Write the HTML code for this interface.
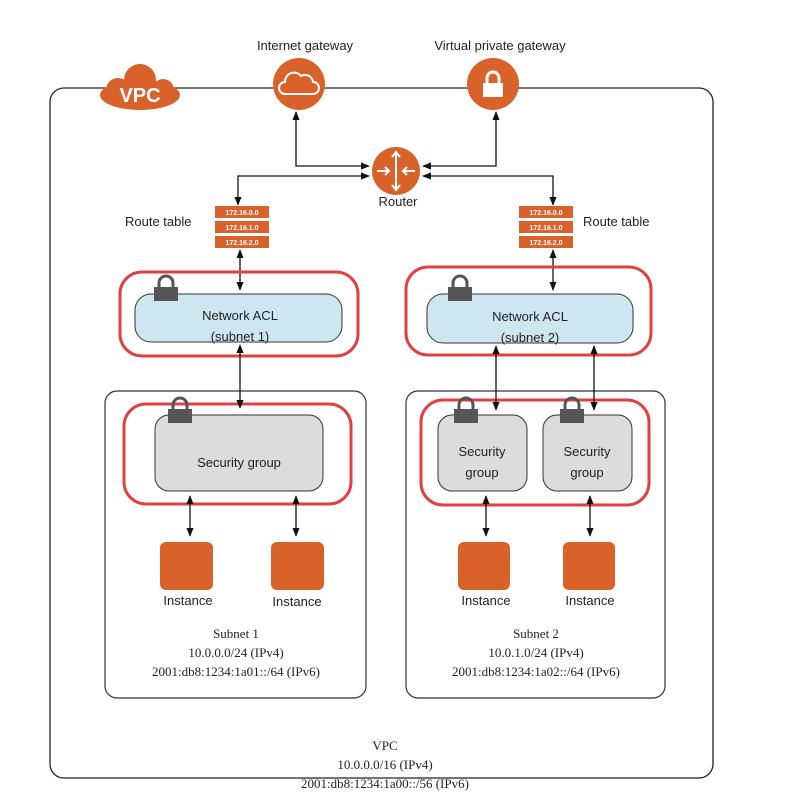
<!DOCTYPE html>
<html><head><meta charset="utf-8"><style>
html,body{margin:0;padding:0;background:#fff;}
svg{display:block;}
.s{font-family:"Liberation Sans",sans-serif;font-size:13px;fill:#222;}
.r{font-family:"Liberation Serif",serif;font-size:13px;fill:#222;}
.rt{font-family:"Liberation Sans",sans-serif;font-size:7px;fill:#fff;font-weight:bold;}
</style></head><body>
<svg width="800" height="809" viewBox="0 0 800 809" xmlns="http://www.w3.org/2000/svg">
<defs>
<marker id="a" viewBox="0 0 10 10" refX="9" refY="5" markerWidth="7" markerHeight="7" orient="auto-start-reverse"><path d="M0,1 L10,5 L0,9 z" fill="#111"/></marker>
<g id="lock"><rect x="-12" y="-2" width="24" height="14" fill="#555"/><path d="M-7,-2 V-6 A7,7 0 0 1 7,-6 V-2" fill="none" stroke="#555" stroke-width="3"/></g>
<g id="rt"><rect x="0" y="0" width="54" height="12" fill="#d9622b"/><rect x="0" y="15" width="54" height="12" fill="#d9622b"/><rect x="0" y="30" width="54" height="12" fill="#d9622b"/>
<text class="rt" x="27" y="9" text-anchor="middle">172.16.0.0</text><text class="rt" x="27" y="24" text-anchor="middle">172.16.1.0</text><text class="rt" x="27" y="39" text-anchor="middle">172.16.2.0</text></g>
</defs>
<rect x="50" y="88" width="663" height="690" rx="14" fill="none" stroke="#222" stroke-width="1.3"/>
<!-- VPC cloud -->
<g fill="#d9622b"><ellipse cx="140" cy="95" rx="40" ry="15"/><circle cx="140" cy="80" r="16"/><circle cx="118" cy="90" r="12"/><circle cx="163" cy="90" r="11"/></g>
<text x="140" y="102" text-anchor="middle" font-family="Liberation Sans,sans-serif" font-weight="bold" font-size="20" fill="#fff">VPC</text>
<!-- IGW -->
<circle cx="299" cy="84" r="26" fill="#d9622b"/>
<path d="M285,94 h28 a6,6 0 0 0 0,-12 a8,8 0 0 0 -12,-6 a9,9 0 0 0 -16,6 a6,6 0 0 0 0,12z" fill="none" stroke="#fff" stroke-width="2"/>
<text class="s" x="305" y="50" text-anchor="middle">Internet gateway</text>
<!-- VPG -->
<circle cx="493" cy="84" r="26" fill="#d9622b"/>
<rect x="483" y="83" width="20" height="14" fill="#fff"/><path d="M487,83 v-5 a6,6 0 0 1 12,0 v5" fill="none" stroke="#fff" stroke-width="3"/>
<text class="s" x="500" y="50" text-anchor="middle">Virtual private gateway</text>
<!-- Router -->
<circle cx="396" cy="171" r="24" fill="#d9622b"/>
<g stroke="#fff" stroke-width="2" fill="none"><path d="M396,152 v38 M392,157 l4,-5 l4,5 M392,185 l4,5 l4,-5 M377,171 h12 M385,167 l4,4 l-4,4 M415,171 h-12 M407,167 l-4,4 l4,4"/></g>
<text class="s" x="398" y="206" text-anchor="middle">Router</text>
<!-- connectors top -->
<g stroke="#111" stroke-width="1.3" fill="none">
<path d="M296,112 V166 H369" marker-start="url(#a)" marker-end="url(#a)"/>
<path d="M238,205 V176 H369" marker-start="url(#a)" marker-end="url(#a)"/>
<path d="M496,112 V166 H423" marker-start="url(#a)" marker-end="url(#a)"/>
<path d="M553,205 V176 H423" marker-start="url(#a)" marker-end="url(#a)"/>
<path d="M240,250 V290" marker-start="url(#a)" marker-end="url(#a)"/>
<path d="M553,250 V290" marker-start="url(#a)" marker-end="url(#a)"/>
</g>
<use href="#rt" x="215" y="206"/><use href="#rt" x="519" y="206"/>
<text class="s" x="125" y="226">Route table</text>
<text class="s" x="583" y="226">Route table</text>
<!-- NACL 1 -->
<rect x="120" y="272" width="238" height="84" rx="22" fill="none" stroke="#e04040" stroke-width="3"/>
<rect x="135" y="294" width="207" height="48" rx="16" fill="#cde6ef" stroke="#333" stroke-width="1"/>
<use href="#lock" x="166" y="289"/>
<text class="s" x="240" y="320" text-anchor="middle">Network ACL</text>
<text class="s" x="240" y="341" text-anchor="middle">(subnet 1)</text>
<!-- NACL 2 -->
<rect x="406" y="267" width="245" height="88" rx="22" fill="none" stroke="#e04040" stroke-width="3"/>
<rect x="427" y="294" width="206" height="49" rx="16" fill="#cde6ef" stroke="#333" stroke-width="1"/>
<use href="#lock" x="460" y="289"/>
<text class="s" x="530" y="321" text-anchor="middle">Network ACL</text>
<text class="s" x="530" y="342" text-anchor="middle">(subnet 2)</text>
<!-- Subnet 1 -->
<rect x="105" y="391" width="261" height="307" rx="12" fill="none" stroke="#333" stroke-width="1.2"/>
<rect x="124" y="404" width="227" height="100" rx="22" fill="none" stroke="#e04040" stroke-width="3"/>
<rect x="155" y="415" width="168" height="76" rx="14" fill="#dcdcdc" stroke="#333" stroke-width="1"/>
<use href="#lock" x="180" y="411"/>
<text class="s" x="239" y="467" text-anchor="middle">Security group</text>
<rect x="160" y="542" width="53" height="48" rx="6" fill="#d9622b"/>
<rect x="271" y="542" width="53" height="48" rx="6" fill="#d9622b"/>
<text class="s" x="188" y="605" text-anchor="middle">Instance</text>
<text class="s" x="297" y="606" text-anchor="middle">Instance</text>
<text class="r" x="236" y="638" text-anchor="middle">Subnet 1</text>
<text class="r" x="236" y="657" text-anchor="middle">10.0.0.0/24 (IPv4)</text>
<text class="r" x="236" y="676" text-anchor="middle">2001:db8:1234:1a01::/64 (IPv6)</text>
<!-- Subnet 2 -->
<rect x="406" y="391" width="259" height="307" rx="12" fill="none" stroke="#333" stroke-width="1.2"/>
<rect x="421" y="400" width="228" height="105" rx="22" fill="none" stroke="#e04040" stroke-width="3"/>
<rect x="438" y="415" width="89" height="76" rx="14" fill="#dcdcdc" stroke="#333" stroke-width="1"/>
<rect x="543" y="415" width="89" height="76" rx="14" fill="#dcdcdc" stroke="#333" stroke-width="1"/>
<use href="#lock" x="466" y="411"/><use href="#lock" x="572" y="411"/>
<text class="s" x="482" y="456" text-anchor="middle">Security</text>
<text class="s" x="482" y="477" text-anchor="middle">group</text>
<text class="s" x="587" y="456" text-anchor="middle">Security</text>
<text class="s" x="587" y="477" text-anchor="middle">group</text>
<rect x="458" y="542" width="52" height="48" rx="6" fill="#d9622b"/>
<rect x="563" y="542" width="52" height="48" rx="6" fill="#d9622b"/>
<text class="s" x="486" y="605" text-anchor="middle">Instance</text>
<text class="s" x="590" y="605" text-anchor="middle">Instance</text>
<text class="r" x="536" y="638" text-anchor="middle">Subnet 2</text>
<text class="r" x="536" y="657" text-anchor="middle">10.0.1.0/24 (IPv4)</text>
<text class="r" x="536" y="676" text-anchor="middle">2001:db8:1234:1a02::/64 (IPv6)</text>
<!-- VPC text -->
<text class="r" x="385" y="750" text-anchor="middle">VPC</text>
<text class="r" x="385" y="769" text-anchor="middle">10.0.0.0/16 (IPv4)</text>
<text class="r" x="385" y="788" text-anchor="middle">2001:db8:1234:1a00::/56 (IPv6)</text>
<!-- lower connectors -->
<g stroke="#111" stroke-width="1.3" fill="none">
<path d="M240,345 V408" marker-start="url(#a)" marker-end="url(#a)"/>
<path d="M496,346 V410" marker-start="url(#a)" marker-end="url(#a)"/>
<path d="M594,346 V410" marker-start="url(#a)" marker-end="url(#a)"/>
<path d="M190,496 V536" marker-start="url(#a)" marker-end="url(#a)"/>
<path d="M296,496 V536" marker-start="url(#a)" marker-end="url(#a)"/>
<path d="M486,496 V536" marker-start="url(#a)" marker-end="url(#a)"/>
<path d="M590,496 V536" marker-start="url(#a)" marker-end="url(#a)"/>
</g>
</svg>
</body></html>
